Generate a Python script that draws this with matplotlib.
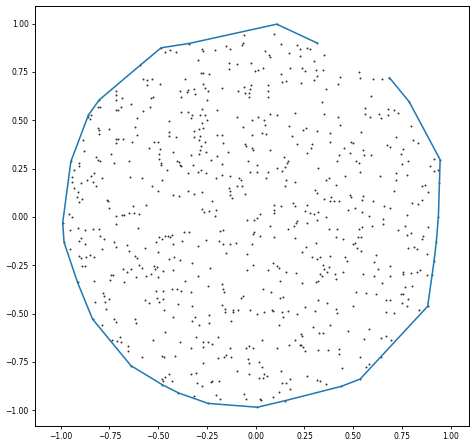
import matplotlib.pyplot as plt
import numpy as np

# points, one list per quadrant (x, y)
pts_upper_left = [
    (-0.463, 0.851), (-0.441, 0.863), (-0.408, 0.851), (-0.274, 0.871), (-0.268, 0.857), (-0.208, 0.866),
    (-0.151, 0.885), (-0.134, 0.871), (-0.297, 0.811), (-0.137, 0.794), (-0.137, 0.765), (-0.281, 0.746),
    (-0.268, 0.742), (-0.242, 0.739), (-0.362, 0.716), (-0.580, 0.713), (-0.557, 0.706), (-0.532, 0.713),
    (-0.556, 0.684), (-0.491, 0.686), (-0.389, 0.653), (-0.383, 0.622), (-0.352, 0.646), (-0.319, 0.663),
    (-0.310, 0.636), (-0.345, 0.656), (-0.271, 0.687), (-0.262, 0.668), (-0.244, 0.649), (-0.250, 0.605),
    (-0.173, 0.667), (-0.537, 0.617), (-0.527, 0.622), (-0.715, 0.653), (-0.714, 0.631), (-0.686, 0.617),
    (-0.717, 0.605), (-0.641, 0.586), (-0.542, 0.567), (-0.578, 0.550), (-0.446, 0.498), (-0.384, 0.545),
    (-0.346, 0.541), (-0.329, 0.527), (-0.331, 0.510), (-0.276, 0.558), (-0.285, 0.527), (-0.262, 0.527),
    (-0.278, 0.488), (-0.250, 0.502), (-0.196, 0.553), (-0.319, 0.447), (-0.290, 0.454), (-0.269, 0.462),
    (-0.288, 0.421), (-0.607, 0.510), (-0.617, 0.466), (-0.609, 0.426), (-0.636, 0.388), (-0.719, 0.555),
    (-0.705, 0.553), (-0.691, 0.569), (-0.810, 0.569), (-0.799, 0.570), (-0.858, 0.515), (-0.851, 0.509),
    (-0.846, 0.529), (-0.810, 0.462), (-0.806, 0.448), (-0.803, 0.430), (-0.750, 0.454), (-0.717, 0.402),
    (-0.707, 0.402), (-0.714, 0.385), (-0.681, 0.402), (-0.547, 0.357), (-0.499, 0.388), (-0.443, 0.438),
    (-0.444, 0.421), (-0.408, 0.414), (-0.317, 0.416), (-0.292, 0.399), (-0.283, 0.369), (-0.286, 0.347),
    (-0.292, 0.326), (-0.262, 0.388), (-0.197, 0.424), (-0.172, 0.424), (-0.166, 0.381), (-0.142, 0.338),
    (-0.888, 0.400), (-0.882, 0.340), (-0.741, 0.326), (-0.798, 0.290), (-0.820, 0.311), (-0.808, 0.296),
    (-0.726, 0.277), (-0.652, 0.287), (-0.645, 0.206), (-0.583, 0.204), (-0.521, 0.387), (-0.489, 0.351),
    (-0.497, 0.325), (-0.494, 0.299), (-0.487, 0.278), (-0.484, 0.268), (-0.425, 0.337), (-0.403, 0.287),
    (-0.395, 0.284), (-0.388, 0.270), (-0.456, 0.244), (-0.383, 0.265), (-0.348, 0.229), (-0.333, 0.320),
    (-0.322, 0.270), (-0.295, 0.234), (-0.280, 0.241), (-0.257, 0.227), (-0.254, 0.335), (-0.230, 0.296),
    (-0.196, 0.313), (-0.206, 0.201), (-0.172, 0.275), (-0.175, 0.218), (-0.137, 0.149), (-0.130, 0.132),
    (-0.134, 0.210), (-0.906, 0.280), (-0.906, 0.263), (-0.931, 0.244), (-0.940, 0.208), (-0.940, 0.180),
    (-0.918, 0.101), (-0.906, 0.077), (-0.895, 0.177), (-0.892, 0.091), (-0.864, 0.192), (-0.844, 0.213),
    (-0.828, 0.225), (-0.837, 0.179), (-0.818, 0.158), (-0.909, 0.127), (-0.933, 0.151), (-0.786, 0.201),
    (-0.765, 0.088), (-0.756, 0.081), (-0.751, 0.045), (-0.686, 0.012), (-0.678, 0.010), (-0.631, 0.055),
    (-0.563, 0.064), (-0.530, 0.158), (-0.480, 0.189), (-0.425, 0.115), (-0.391, 0.107), (-0.348, 0.134),
    (-0.319, 0.120), (-0.274, 0.127), (-0.223, 0.081), (-0.274, 0.041), (-0.264, 0.026), (-0.240, 0.029),
    (-0.209, 0.007), (-0.202, 0.038), (-0.134, 0.115), (-0.122, 0.098), (-0.501, 0.136), (-0.648, 0.021),
    (-0.623, 0.021), (-0.599, 0.015), (-0.717, 0.007), (-0.957, 0.017), (-0.943, 0.000),
]

pts_upper_right = [
    (-0.060, 0.940), (-0.067, 0.900), (-0.072, 0.888), (0.096, 0.945), (0.130, 0.897), (0.046, 0.859),
    (0.069, 0.837), (0.072, 0.828), (0.172, 0.849), (0.214, 0.888), (0.225, 0.871), (0.228, 0.833),
    (0.261, 0.875), (0.280, 0.871), (0.297, 0.806), (0.348, 0.840), (-0.022, 0.797), (-0.003, 0.754),
    (0.010, 0.759), (0.039, 0.768), (0.130, 0.739), (0.137, 0.699), (0.154, 0.704), (0.177, 0.768),
    (0.237, 0.770), (0.254, 0.754), (0.232, 0.691), (0.310, 0.759), (0.345, 0.759), (0.314, 0.729),
    (0.300, 0.708), (0.362, 0.663), (0.431, 0.722), (0.420, 0.687), (0.530, 0.751), (0.537, 0.720),
    (0.602, 0.711), (0.647, 0.711), (0.592, 0.627), (0.341, 0.595), (0.563, 0.565), (0.563, 0.531),
    (0.585, 0.515), (0.631, 0.533), (0.642, 0.514), (0.676, 0.558), (0.708, 0.553), (0.731, 0.540),
    (0.678, 0.527), (-0.094, 0.790), (-0.089, 0.651), (-0.060, 0.674), (-0.053, 0.643), (-0.034, 0.643),
    (-0.029, 0.660), (-0.026, 0.682), (-0.036, 0.619), (0.062, 0.682), (0.065, 0.653), (0.062, 0.619),
    (-0.098, 0.515), (-0.067, 0.467), (-0.021, 0.502), (0.010, 0.519), (0.045, 0.502), (0.072, 0.531),
    (0.046, 0.476), (0.108, 0.527), (0.034, 0.433), (0.055, 0.431), (-0.021, 0.426), (0.204, 0.540),
    (0.172, 0.471), (0.185, 0.421), (0.245, 0.450), (0.257, 0.462), (0.314, 0.445), (0.352, 0.531),
    (0.424, 0.515), (0.432, 0.476), (0.379, 0.436), (0.491, 0.387), (0.540, 0.440), (0.794, 0.471),
    (-0.057, 0.375), (-0.050, 0.369), (-0.021, 0.356), (-0.012, 0.347), (0.074, 0.347), (0.211, 0.378),
    (0.288, 0.378), (0.285, 0.359), (0.262, 0.330), (0.379, 0.390), (0.451, 0.359), (0.425, 0.321),
    (0.417, 0.287), (0.485, 0.330), (0.497, 0.381), (0.515, 0.292), (0.530, 0.278), (0.537, 0.235),
    (0.551, 0.347), (0.554, 0.321), (0.593, 0.320), (0.674, 0.373), (0.691, 0.364), (0.722, 0.416),
    (0.755, 0.352), (0.743, 0.326), (0.808, 0.399), (0.830, 0.381), (0.782, 0.290), (0.748, 0.275),
    (0.892, 0.266), (0.913, 0.299), (0.916, 0.239), (0.937, 0.244), (-0.041, 0.292), (-0.029, 0.234),
    (0.005, 0.270), (0.005, 0.235), (0.065, 0.232), (0.108, 0.253), (0.137, 0.237), (0.151, 0.258),
    (0.160, 0.278), (0.165, 0.287), (0.146, 0.308), (0.319, 0.253), (0.376, 0.201), (0.358, 0.192),
    (0.053, 0.201), (0.153, 0.192), (0.151, 0.162), (0.204, 0.179), (-0.084, 0.204), (-0.077, 0.192),
    (-0.098, 0.158), (-0.072, 0.162), (-0.057, 0.120), (0.460, 0.210), (0.413, 0.163), (0.302, 0.141),
    (0.314, 0.124), (0.348, 0.093), (0.386, 0.105), (0.403, 0.084), (0.381, 0.081), (0.427, 0.084),
    (0.484, 0.115), (0.487, 0.103), (0.549, 0.110), (0.545, 0.086), (0.604, 0.084), (0.640, 0.210),
    (0.719, 0.227), (0.722, 0.192), (0.707, 0.136), (0.777, 0.215), (0.851, 0.158), (0.868, 0.163),
    (0.885, 0.127), (0.803, 0.072), (0.834, 0.069), (0.851, 0.089), (0.940, 0.175), (0.659, 0.055),
    (0.690, 0.046), (0.096, 0.064), (0.096, 0.038), (0.096, 0.021), (0.132, 0.058), (0.192, 0.072),
    (0.204, 0.055), (0.261, 0.064), (0.254, 0.033), (0.280, 0.021), (0.300, 0.015), (0.314, -0.014),
    (0.322, 0.026), (0.211, -0.022), (0.362, -0.002), (0.473, 0.038), (0.511, 0.046), (0.547, 0.024),
    (0.580, 0.003), (0.652, -0.009), (0.777, 0.012), (-0.009, -0.014), (0.005, -0.005), (0.022, 0.015),
    (-0.046, -0.014),
]

pts_lower_left = [
    (-0.954, -0.066), (-0.909, -0.059), (-0.875, -0.069), (-0.832, -0.062), (-0.806, -0.062), (-0.717, -0.036),
    (-0.605, -0.059), (-0.801, -0.100), (-0.779, -0.114), (-0.897, -0.110), (-0.906, -0.122), (-0.875, -0.140),
    (-0.955, -0.166), (-0.906, -0.200), (-0.897, -0.214), (-0.892, -0.252), (-0.878, -0.255), (-0.868, -0.205),
    (-0.851, -0.195), (-0.827, -0.209), (-0.786, -0.166), (-0.729, -0.131), (-0.715, -0.157), (-0.660, -0.145),
    (-0.650, -0.174), (-0.617, -0.200), (-0.609, -0.212), (-0.568, -0.162), (-0.511, -0.128), (-0.501, -0.179),
    (-0.465, -0.097), (-0.494, -0.105), (-0.480, -0.114), (-0.451, -0.100), (-0.431, -0.093), (-0.439, -0.105),
    (-0.422, -0.140), (-0.417, -0.209), (-0.446, -0.217), (-0.377, -0.122), (-0.369, -0.076), (-0.340, -0.076),
    (-0.295, -0.152), (-0.254, -0.117), (-0.187, -0.122), (-0.168, -0.066), (-0.185, -0.071), (-0.166, -0.140),
    (-0.134, -0.140), (-0.101, -0.134), (-0.151, -0.186), (-0.683, -0.269), (-0.660, -0.283), (-0.640, -0.269),
    (-0.731, -0.300), (-0.614, -0.312), (-0.600, -0.248), (-0.585, -0.266), (-0.563, -0.303), (-0.537, -0.295),
    (-0.520, -0.252), (-0.516, -0.269), (-0.506, -0.260), (-0.477, -0.278), (-0.499, -0.309), (-0.422, -0.274),
    (-0.386, -0.221), (-0.326, -0.240), (-0.364, -0.329), (-0.295, -0.307), (-0.233, -0.264), (-0.830, -0.333),
    (-0.743, -0.300), (-0.746, -0.324), (-0.674, -0.338), (-0.784, -0.393), (-0.779, -0.410), (-0.774, -0.438),
    (-0.755, -0.424), (-0.768, -0.476), (-0.822, -0.440), (-0.726, -0.528), (-0.715, -0.541), (-0.786, -0.559),
    (-0.695, -0.619), (-0.691, -0.645), (-0.736, -0.634), (-0.710, -0.643), (-0.654, -0.666), (-0.654, -0.691),
    (-0.617, -0.528), (-0.614, -0.550), (-0.585, -0.724), (-0.568, -0.428), (-0.549, -0.445), (-0.511, -0.384),
    (-0.477, -0.381), (-0.506, -0.421), (-0.497, -0.441), (-0.477, -0.424), (-0.472, -0.479), (-0.465, -0.597),
    (-0.525, -0.634), (-0.480, -0.717), (-0.468, -0.726), (-0.429, -0.372), (-0.405, -0.372), (-0.384, -0.381),
    (-0.398, -0.450), (-0.422, -0.519), (-0.415, -0.717), (-0.388, -0.648), (-0.334, -0.390), (-0.326, -0.459),
    (-0.326, -0.540), (-0.331, -0.679), (-0.309, -0.519), (-0.304, -0.622), (-0.290, -0.557), (-0.271, -0.645),
    (-0.268, -0.674), (-0.244, -0.648), (-0.242, -0.507), (-0.240, -0.550), (-0.244, -0.359), (-0.223, -0.657),
    (-0.194, -0.622), (-0.172, -0.347), (-0.168, -0.372), (-0.165, -0.386), (-0.172, -0.455), (-0.160, -0.476),
    (-0.158, -0.493), (-0.117, -0.479), (-0.115, -0.493), (-0.125, -0.538), (-0.134, -0.679), (-0.151, -0.712),
    (-0.129, -0.726), (-0.165, -0.726), (-0.194, -0.729), (-0.268, -0.755), (-0.331, -0.812), (-0.305, -0.807),
    (-0.302, -0.860), (-0.278, -0.872), (-0.230, -0.855), (-0.223, -0.847), (-0.190, -0.847), (-0.202, -0.919),
    (-0.185, -0.941), (-0.319, -0.926), (-0.480, -0.838), (-0.473, -0.847), (-0.465, -0.829), (-0.443, -0.812),
    (-0.431, -0.850),
]

pts_lower_right = [
    (-0.009, -0.079), (-0.015, -0.088), (0.022, -0.100), (0.074, -0.048), (0.094, -0.103), (0.168, -0.062),
    (0.194, -0.048), (0.208, -0.031), (0.262, -0.031), (-0.021, -0.138), (-0.043, -0.191), (-0.012, -0.248),
    (-0.046, -0.274), (0.065, -0.274), (0.087, -0.238), (0.108, -0.252), (0.122, -0.264), (0.125, -0.331),
    (0.156, -0.286), (0.202, -0.110), (0.237, -0.179), (0.259, -0.157), (0.206, -0.291), (0.238, -0.343),
    (0.288, -0.209), (0.310, -0.134), (0.314, -0.217), (0.331, -0.205), (0.376, -0.062), (0.417, -0.062),
    (0.413, -0.105), (0.448, -0.114), (0.379, -0.200), (0.345, -0.248), (0.352, -0.269), (0.365, -0.286),
    (0.374, -0.260), (0.341, -0.303), (0.331, -0.295), (0.319, -0.329), (0.310, -0.338), (0.405, -0.295),
    (0.412, -0.321), (0.446, -0.286), (0.458, -0.209), (0.468, -0.229), (0.499, -0.140), (0.511, -0.136),
    (0.520, -0.162), (0.527, -0.105), (0.540, -0.102), (0.532, -0.062), (0.544, -0.052), (0.540, -0.176),
    (0.599, -0.045), (0.619, -0.197), (0.652, -0.036), (0.729, -0.066), (0.765, -0.045), (0.777, -0.093),
    (0.794, -0.083), (0.851, -0.114), (0.859, -0.097), (0.882, -0.053), (0.877, -0.191), (0.813, -0.157),
    (0.782, -0.162), (0.825, -0.166), (0.609, -0.231), (0.626, -0.269), (0.605, -0.303), (0.691, -0.252),
    (0.552, -0.295), (0.650, -0.343), (0.691, -0.303), (0.755, -0.283), (0.755, -0.295), (0.798, -0.288),
    (0.825, -0.283), (0.842, -0.274), (0.877, -0.298), (0.902, -0.298), (0.768, -0.360), (0.801, -0.355),
    (0.756, -0.400), (0.743, -0.398), (0.751, -0.447), (0.780, -0.424), (0.777, -0.459), (0.837, -0.479),
    (0.667, -0.429), (0.688, -0.428), (0.667, -0.490), (0.708, -0.497), (0.515, -0.390), (0.564, -0.393),
    (0.619, -0.398), (0.499, -0.459), (0.410, -0.476), (0.417, -0.497), (0.365, -0.445), (0.322, -0.428),
    (0.252, -0.464), (0.302, -0.488), (0.211, -0.503), (0.139, -0.414), (0.125, -0.421), (0.079, -0.390),
    (0.036, -0.372), (-0.063, -0.410), (-0.077, -0.421), (-0.091, -0.479), (-0.029, -0.483), (0.005, -0.502),
    (0.043, -0.490), (0.084, -0.481), (0.091, -0.488), (0.137, -0.493), (0.168, -0.488), (0.117, -0.559),
    (0.141, -0.516), (0.293, -0.569), (0.326, -0.602), (0.343, -0.600), (0.383, -0.559), (0.473, -0.590),
    (0.580, -0.579), (0.554, -0.631), (0.643, -0.628), (0.669, -0.614), (0.695, -0.636), (0.204, -0.636),
    (0.232, -0.605), (0.237, -0.614), (0.225, -0.660), (0.233, -0.662), (0.245, -0.674), (0.254, -0.695),
    (0.173, -0.660), (0.111, -0.679), (0.031, -0.636), (-0.051, -0.679), (-0.033, -0.667), (-0.012, -0.676),
    (-0.041, -0.734), (-0.033, -0.755), (-0.098, -0.797), (-0.036, -0.812), (0.017, -0.748), (0.034, -0.778),
    (0.043, -0.812), (0.019, -0.834), (0.057, -0.821), (0.036, -0.831), (0.132, -0.798), (0.178, -0.838),
    (0.178, -0.890), (0.134, -0.860), (0.156, -0.859), (0.317, -0.688), (0.370, -0.688), (0.429, -0.684),
    (0.425, -0.709), (0.444, -0.781), (0.535, -0.724), (0.564, -0.778), (0.580, -0.760), (0.642, -0.724),
    (0.262, -0.824), (0.314, -0.845), (0.328, -0.850), (0.362, -0.862), (0.118, -0.903), (0.087, -0.929),
    (-0.060, -0.916), (-0.051, -0.941), (0.022, -0.941), (0.027, -0.945),
]

# hull vertices, in the order the line is drawn (not closed)
hull_x = [0.686, 0.787, 0.946, 0.937, 0.926, 0.915, 0.882, 0.536, 0.439, 0.151, 0.009, -0.245, -0.396, -0.480,
          -0.640, -0.837, -0.914, -0.983, -0.990, -0.948, -0.858, -0.803, -0.592, -0.485, -0.343, 0.108, 0.314]
hull_y = [0.720, 0.596, 0.296, 0.000, -0.131, -0.226, -0.462, -0.838, -0.876, -0.950, -0.984, -0.964, -0.910, -0.867,
          -0.769, -0.528, -0.338, -0.131, -0.030, 0.287, 0.527, 0.605, 0.785, 0.875, 0.897, 0.997, 0.900]

ticks = [-1.0, -0.75, -0.5, -0.25, 0.0, 0.25, 0.5, 0.75, 1.0]

pts = np.array(pts_upper_left + pts_upper_right + pts_lower_left + pts_lower_right)

fig = plt.figure(figsize=(4.74, 4.46), dpi=100)
ax = fig.add_axes([35 / 474, 20 / 446, 434 / 474, 420 / 446])

ax.scatter(pts[:, 0], pts[:, 1], s=2, c='#333333', linewidths=0)
ax.scatter(hull_x, hull_y, s=2, c='#333333', linewidths=0)
ax.plot(hull_x, hull_y, color='#1f77b4', lw=1.1)

ax.set_xlim(-1.132, 1.094)
ax.set_ylim(-1.081, 1.091)
ax.set_xticks(ticks)
ax.set_yticks(ticks)
ax.tick_params(labelsize=5.5, length=2.5, width=0.6, pad=2)
for s in ax.spines.values():
    s.set_linewidth(0.7)

fig.savefig('out.png', dpi=100)
